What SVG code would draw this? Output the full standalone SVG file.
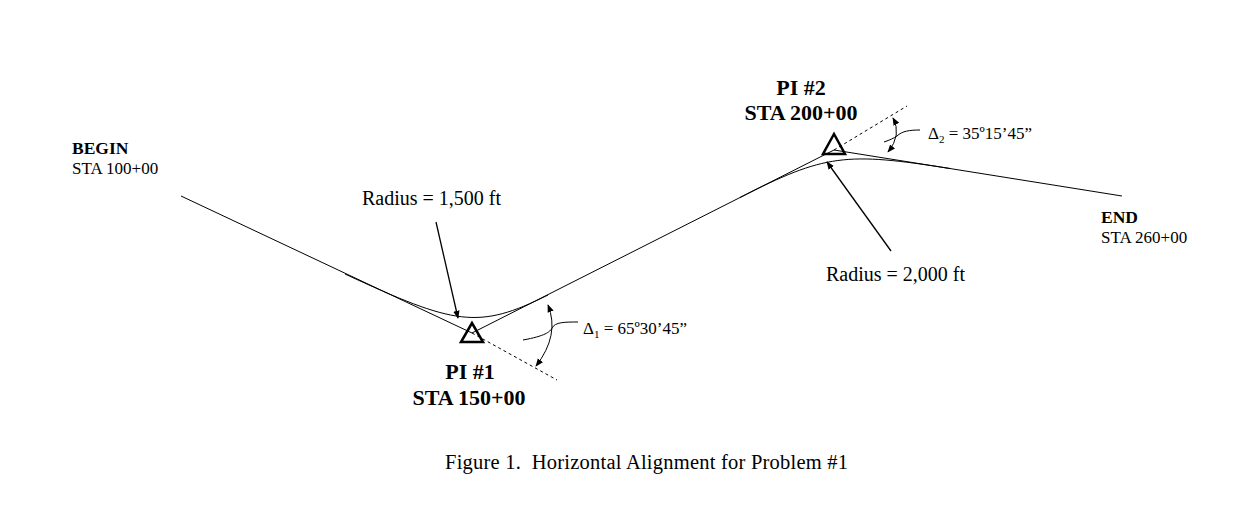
<svg xmlns="http://www.w3.org/2000/svg" width="1248" height="532" viewBox="0 0 1248 532">
<style>
text{font-family:"Liberation Serif","Times New Roman",serif;fill:#000}
.b{font-weight:bold}
.l{fill:none;stroke:#000;stroke-width:1}
.d{fill:none;stroke:#000;stroke-width:1;stroke-dasharray:3,3}
.a{fill:none;stroke:#000;stroke-width:1.3}
</style>
<defs>
<marker id="ah" viewBox="0 0 10 10" refX="9" refY="5" markerWidth="8" markerHeight="8" orient="auto-start-reverse" markerUnits="userSpaceOnUse"><path d="M0,1 L10,5 L0,9 z" fill="#000"/></marker>
</defs>
<rect width="1248" height="532" fill="#fff"/>
<g id="connectors">
<polyline class="l" points="181,196 472,333 834,150 1122,196"/>
<line class="d" x1="472" y1="333" x2="557" y2="380"/>
<line class="d" x1="834" y1="150" x2="907" y2="106"/>
<path class="l" d="M345,274 C455,325 478,330 548,295"/>
<path class="l" d="M740,197.5 C825,154 846,152 950,168.5"/>
<line class="a" x1="436" y1="222" x2="458" y2="318" marker-end="url(#ah)"/>
<line class="a" x1="891" y1="251" x2="827" y2="162" marker-end="url(#ah)"/>
<path class="l" d="M548,305 Q560,335 536,366" marker-start="url(#ah)" marker-end="url(#ah)"/>
<path class="l" d="M523,340 C545,336 550,332 552,328 C555,322 565,322 578,322"/>
<path class="l" d="M893,118 Q902,135 888,152" marker-start="url(#ah)" marker-end="url(#ah)"/>
<path class="l" d="M884,142 C890,140 894,138 897,136 C902,131 910,130 920,130"/>
</g>
<g id="pi1"><polygon points="472,323 461,342 483,342" fill="none" stroke="#000" stroke-width="2.5"/>
<text class="b" x="470" y="379" font-size="22" text-anchor="middle">PI #1</text>
<text class="b" x="469" y="405" font-size="22" text-anchor="middle">STA 150+00</text></g>
<g id="pi2"><polygon points="834,134 823,154 845,154" fill="none" stroke="#000" stroke-width="2.5"/>
<text class="b" x="801" y="95" font-size="22" text-anchor="middle">PI #2</text>
<text class="b" x="801" y="120" font-size="22" text-anchor="middle">STA 200+00</text></g>
<g id="begin"><text class="b" x="72" y="154" font-size="17.5">BEGIN</text>
<text x="72" y="174" font-size="17">STA 100+00</text></g>
<g id="end"><text class="b" x="1101" y="223" font-size="17.5">END</text>
<text x="1101" y="243" font-size="17">STA 260+00</text></g>
<g id="labels">
<text x="362" y="205" font-size="20">Radius = 1,500 ft</text>
<text x="826" y="281" font-size="20">Radius = 2,000 ft</text>
<text x="583" y="334" font-size="17">Δ<tspan font-size="11" dy="4">1</tspan><tspan dy="-4"> = 65º30’45”</tspan></text>
<text x="928" y="139" font-size="17">Δ<tspan font-size="11" dy="4">2</tspan><tspan dy="-4"> = 35º15’45”</tspan></text>
<text x="445" y="469" font-size="20.5" textLength="403" xml:space="preserve">Figure 1.  Horizontal Alignment for Problem #1</text>
</g>
</svg>
